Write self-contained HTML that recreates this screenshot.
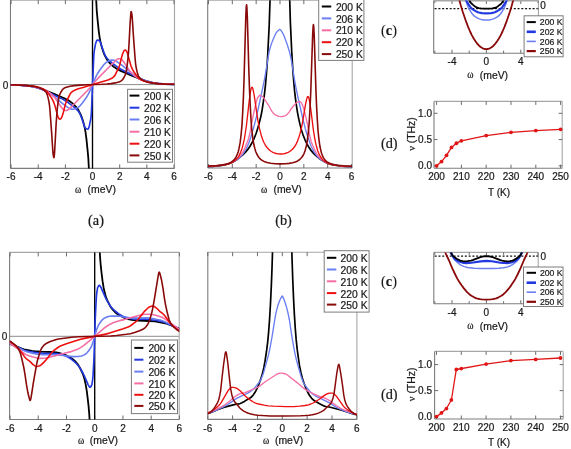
<!DOCTYPE html>
<html><head><meta charset="utf-8"><style>html,body{margin:0;padding:0;background:#fff;width:571px;height:449px;overflow:hidden}svg{display:block;filter:blur(0.35px)}</style></head>
<body><svg width="571" height="449" viewBox="0 0 571 449"><defs><clipPath id="ca1"><rect x="10.47" y="0.15" width="164.03" height="168.25"/></clipPath><clipPath id="cb1"><rect x="207.7" y="0.2" width="144.5" height="167.8"/></clipPath><clipPath id="cc1"><rect x="433.7" y="0.5" width="104.69999999999999" height="52.7"/></clipPath><clipPath id="ca2"><rect x="9.6" y="252.4" width="169.6" height="167.1"/></clipPath><clipPath id="cb2"><rect x="207.8" y="252.2" width="149.09999999999997" height="167.2"/></clipPath><clipPath id="cc2"><rect x="433.8" y="252.4" width="104.40000000000003" height="51.29999999999998"/></clipPath></defs><rect width="571" height="449" fill="#fff"/><line x1="10.47" y1="84.60" x2="174.50" y2="84.60" stroke="#8c8c8c" stroke-width="1" />
<line x1="10.47" y1="0.15" x2="174.50" y2="0.15" stroke="#a6a6a6" stroke-width="1.1" />
<line x1="174.50" y1="0.15" x2="174.50" y2="168.40" stroke="#a6a6a6" stroke-width="1.1" />
<line x1="10.47" y1="0.15" x2="10.47" y2="168.40" stroke="#7c7c7c" stroke-width="1.1" />
<line x1="10.47" y1="168.40" x2="174.50" y2="168.40" stroke="#7c7c7c" stroke-width="1.1" />
<line x1="11.07" y1="168.40" x2="11.07" y2="164.40" stroke="#6a6a6a" stroke-width="1" />
<line x1="11.07" y1="0.15" x2="11.07" y2="4.15" stroke="#6a6a6a" stroke-width="1" />
<text x="11.07" y="180.20" font-family='"Liberation Sans", sans-serif' font-size="10" text-anchor="middle" fill="#1a1a1a" stroke="#1a1a1a" stroke-width="0.22" >-6</text>
<line x1="38.23" y1="168.40" x2="38.23" y2="164.40" stroke="#6a6a6a" stroke-width="1" />
<line x1="38.23" y1="0.15" x2="38.23" y2="4.15" stroke="#6a6a6a" stroke-width="1" />
<text x="38.23" y="180.20" font-family='"Liberation Sans", sans-serif' font-size="10" text-anchor="middle" fill="#1a1a1a" stroke="#1a1a1a" stroke-width="0.22" >-4</text>
<line x1="65.39" y1="168.40" x2="65.39" y2="164.40" stroke="#6a6a6a" stroke-width="1" />
<line x1="65.39" y1="0.15" x2="65.39" y2="4.15" stroke="#6a6a6a" stroke-width="1" />
<text x="65.39" y="180.20" font-family='"Liberation Sans", sans-serif' font-size="10" text-anchor="middle" fill="#1a1a1a" stroke="#1a1a1a" stroke-width="0.22" >-2</text>
<line x1="92.55" y1="168.40" x2="92.55" y2="164.40" stroke="#6a6a6a" stroke-width="1" />
<line x1="92.55" y1="0.15" x2="92.55" y2="4.15" stroke="#6a6a6a" stroke-width="1" />
<text x="92.55" y="180.20" font-family='"Liberation Sans", sans-serif' font-size="10" text-anchor="middle" fill="#1a1a1a" stroke="#1a1a1a" stroke-width="0.22" >0</text>
<line x1="119.71" y1="168.40" x2="119.71" y2="164.40" stroke="#6a6a6a" stroke-width="1" />
<line x1="119.71" y1="0.15" x2="119.71" y2="4.15" stroke="#6a6a6a" stroke-width="1" />
<text x="119.71" y="180.20" font-family='"Liberation Sans", sans-serif' font-size="10" text-anchor="middle" fill="#1a1a1a" stroke="#1a1a1a" stroke-width="0.22" >2</text>
<line x1="146.87" y1="168.40" x2="146.87" y2="164.40" stroke="#6a6a6a" stroke-width="1" />
<line x1="146.87" y1="0.15" x2="146.87" y2="4.15" stroke="#6a6a6a" stroke-width="1" />
<text x="146.87" y="180.20" font-family='"Liberation Sans", sans-serif' font-size="10" text-anchor="middle" fill="#1a1a1a" stroke="#1a1a1a" stroke-width="0.22" >4</text>
<line x1="174.03" y1="168.40" x2="174.03" y2="164.40" stroke="#6a6a6a" stroke-width="1" />
<line x1="174.03" y1="0.15" x2="174.03" y2="4.15" stroke="#6a6a6a" stroke-width="1" />
<text x="174.03" y="180.20" font-family='"Liberation Sans", sans-serif' font-size="10" text-anchor="middle" fill="#1a1a1a" stroke="#1a1a1a" stroke-width="0.22" >6</text>
<text x="5.50" y="88.60" font-family='"Liberation Sans", sans-serif' font-size="10" text-anchor="middle" fill="#1a1a1a" stroke="#1a1a1a" stroke-width="0.22" >0</text>
<text x="75.00" y="192.90" font-family='"Liberation Serif", serif' font-size="9.5" text-anchor="start" fill="#1a1a1a" stroke="#1a1a1a" stroke-width="0.22" >&#969;</text>
<text x="87.60" y="193.10" font-family='"Liberation Sans", sans-serif' font-size="10.4" text-anchor="start" fill="#1a1a1a" stroke="#1a1a1a" stroke-width="0.22" >(meV)</text>
<text x="96.00" y="225.20" font-family='"Liberation Serif", serif' font-size="14.3" text-anchor="middle" fill="#1a1a1a" stroke="#1a1a1a" stroke-width="0.22" >(a)</text>
<line x1="207.70" y1="0.20" x2="352.20" y2="0.20" stroke="#a6a6a6" stroke-width="1.1" />
<line x1="352.20" y1="0.20" x2="352.20" y2="168.00" stroke="#a6a6a6" stroke-width="1.1" />
<line x1="207.70" y1="0.20" x2="207.70" y2="168.00" stroke="#7c7c7c" stroke-width="1.1" />
<line x1="207.70" y1="168.00" x2="352.20" y2="168.00" stroke="#7c7c7c" stroke-width="1.1" />
<line x1="208.48" y1="168.00" x2="208.48" y2="164.00" stroke="#6a6a6a" stroke-width="1" />
<line x1="208.48" y1="0.20" x2="208.48" y2="4.20" stroke="#6a6a6a" stroke-width="1" />
<text x="208.48" y="180.30" font-family='"Liberation Sans", sans-serif' font-size="10" text-anchor="middle" fill="#1a1a1a" stroke="#1a1a1a" stroke-width="0.22" >-6</text>
<line x1="232.32" y1="168.00" x2="232.32" y2="164.00" stroke="#6a6a6a" stroke-width="1" />
<line x1="232.32" y1="0.20" x2="232.32" y2="4.20" stroke="#6a6a6a" stroke-width="1" />
<text x="232.32" y="180.30" font-family='"Liberation Sans", sans-serif' font-size="10" text-anchor="middle" fill="#1a1a1a" stroke="#1a1a1a" stroke-width="0.22" >-4</text>
<line x1="256.16" y1="168.00" x2="256.16" y2="164.00" stroke="#6a6a6a" stroke-width="1" />
<line x1="256.16" y1="0.20" x2="256.16" y2="4.20" stroke="#6a6a6a" stroke-width="1" />
<text x="256.16" y="180.30" font-family='"Liberation Sans", sans-serif' font-size="10" text-anchor="middle" fill="#1a1a1a" stroke="#1a1a1a" stroke-width="0.22" >-2</text>
<line x1="280.00" y1="168.00" x2="280.00" y2="164.00" stroke="#6a6a6a" stroke-width="1" />
<line x1="280.00" y1="0.20" x2="280.00" y2="4.20" stroke="#6a6a6a" stroke-width="1" />
<text x="280.00" y="180.30" font-family='"Liberation Sans", sans-serif' font-size="10" text-anchor="middle" fill="#1a1a1a" stroke="#1a1a1a" stroke-width="0.22" >0</text>
<line x1="303.84" y1="168.00" x2="303.84" y2="164.00" stroke="#6a6a6a" stroke-width="1" />
<line x1="303.84" y1="0.20" x2="303.84" y2="4.20" stroke="#6a6a6a" stroke-width="1" />
<text x="303.84" y="180.30" font-family='"Liberation Sans", sans-serif' font-size="10" text-anchor="middle" fill="#1a1a1a" stroke="#1a1a1a" stroke-width="0.22" >2</text>
<line x1="327.68" y1="168.00" x2="327.68" y2="164.00" stroke="#6a6a6a" stroke-width="1" />
<line x1="327.68" y1="0.20" x2="327.68" y2="4.20" stroke="#6a6a6a" stroke-width="1" />
<text x="327.68" y="180.30" font-family='"Liberation Sans", sans-serif' font-size="10" text-anchor="middle" fill="#1a1a1a" stroke="#1a1a1a" stroke-width="0.22" >4</text>
<line x1="351.52" y1="168.00" x2="351.52" y2="164.00" stroke="#6a6a6a" stroke-width="1" />
<line x1="351.52" y1="0.20" x2="351.52" y2="4.20" stroke="#6a6a6a" stroke-width="1" />
<text x="351.52" y="180.30" font-family='"Liberation Sans", sans-serif' font-size="10" text-anchor="middle" fill="#1a1a1a" stroke="#1a1a1a" stroke-width="0.22" >6</text>
<text x="261.00" y="192.50" font-family='"Liberation Serif", serif' font-size="9.5" text-anchor="start" fill="#1a1a1a" stroke="#1a1a1a" stroke-width="0.22" >&#969;</text>
<text x="273.50" y="192.70" font-family='"Liberation Sans", sans-serif' font-size="10.4" text-anchor="start" fill="#1a1a1a" stroke="#1a1a1a" stroke-width="0.22" >(meV)</text>
<text x="283.50" y="224.80" font-family='"Liberation Serif", serif' font-size="14.3" text-anchor="middle" fill="#1a1a1a" stroke="#1a1a1a" stroke-width="0.22" >(b)</text>
<line x1="433.70" y1="0.50" x2="538.40" y2="0.50" stroke="#a6a6a6" stroke-width="1.1" />
<line x1="538.40" y1="0.50" x2="538.40" y2="53.20" stroke="#a6a6a6" stroke-width="1.1" />
<line x1="433.70" y1="0.50" x2="433.70" y2="53.20" stroke="#7c7c7c" stroke-width="1.1" />
<line x1="433.70" y1="53.20" x2="538.40" y2="53.20" stroke="#7c7c7c" stroke-width="1.1" />
<line x1="434.80" y1="53.20" x2="434.80" y2="50.70" stroke="#6a6a6a" stroke-width="1" />
<line x1="434.80" y1="0.50" x2="434.80" y2="3.00" stroke="#6a6a6a" stroke-width="1" />
<line x1="452.00" y1="53.20" x2="452.00" y2="49.70" stroke="#6a6a6a" stroke-width="1" />
<line x1="452.00" y1="0.50" x2="452.00" y2="4.00" stroke="#6a6a6a" stroke-width="1" />
<line x1="469.20" y1="53.20" x2="469.20" y2="50.70" stroke="#6a6a6a" stroke-width="1" />
<line x1="469.20" y1="0.50" x2="469.20" y2="3.00" stroke="#6a6a6a" stroke-width="1" />
<line x1="486.40" y1="53.20" x2="486.40" y2="49.70" stroke="#6a6a6a" stroke-width="1" />
<line x1="486.40" y1="0.50" x2="486.40" y2="4.00" stroke="#6a6a6a" stroke-width="1" />
<line x1="503.60" y1="53.20" x2="503.60" y2="50.70" stroke="#6a6a6a" stroke-width="1" />
<line x1="503.60" y1="0.50" x2="503.60" y2="3.00" stroke="#6a6a6a" stroke-width="1" />
<line x1="520.80" y1="53.20" x2="520.80" y2="49.70" stroke="#6a6a6a" stroke-width="1" />
<line x1="520.80" y1="0.50" x2="520.80" y2="4.00" stroke="#6a6a6a" stroke-width="1" />
<line x1="538.00" y1="53.20" x2="538.00" y2="50.70" stroke="#6a6a6a" stroke-width="1" />
<line x1="538.00" y1="0.50" x2="538.00" y2="3.00" stroke="#6a6a6a" stroke-width="1" />
<text x="452.00" y="64.90" font-family='"Liberation Sans", sans-serif' font-size="10" text-anchor="middle" fill="#1a1a1a" stroke="#1a1a1a" stroke-width="0.22" >-4</text>
<text x="486.40" y="64.90" font-family='"Liberation Sans", sans-serif' font-size="10" text-anchor="middle" fill="#1a1a1a" stroke="#1a1a1a" stroke-width="0.22" >0</text>
<text x="520.80" y="64.90" font-family='"Liberation Sans", sans-serif' font-size="10" text-anchor="middle" fill="#1a1a1a" stroke="#1a1a1a" stroke-width="0.22" >4</text>
<text x="467.20" y="78.30" font-family='"Liberation Serif", serif' font-size="9.5" text-anchor="start" fill="#1a1a1a" stroke="#1a1a1a" stroke-width="0.22" >&#969;</text>
<text x="479.80" y="78.50" font-family='"Liberation Sans", sans-serif' font-size="10.4" text-anchor="start" fill="#1a1a1a" stroke="#1a1a1a" stroke-width="0.22" >(meV)</text>
<line x1="434.60" y1="8.60" x2="538.40" y2="8.60" stroke="#111" stroke-width="1.2" stroke-dasharray="2.0,1.77"/>
<line x1="433.70" y1="0.70" x2="538.40" y2="0.70" stroke="#a6a6a6" stroke-width="1.5" />
<line x1="536.20" y1="8.45" x2="538.40" y2="8.45" stroke="#6a6a6a" stroke-width="1.0" />
<text x="540.20" y="8.90" font-family='"Liberation Sans", sans-serif' font-size="10" text-anchor="start" fill="#1a1a1a" stroke="#1a1a1a" stroke-width="0.22" >0</text>
<text x="389.0" y="34.9" font-family='"Liberation Serif", serif' font-size="14.3" text-anchor="middle" fill="#1a1a1a" stroke="#1a1a1a" stroke-width="0.12">(<tspan font-weight="bold">c</tspan>)</text>
<line x1="434.00" y1="101.40" x2="562.20" y2="101.40" stroke="#a6a6a6" stroke-width="1.1" />
<line x1="562.20" y1="101.40" x2="562.20" y2="168.20" stroke="#a6a6a6" stroke-width="1.1" />
<line x1="434.00" y1="101.40" x2="434.00" y2="168.20" stroke="#7c7c7c" stroke-width="1.1" />
<line x1="434.00" y1="168.20" x2="562.20" y2="168.20" stroke="#7c7c7c" stroke-width="1.1" />
<line x1="436.60" y1="168.20" x2="436.60" y2="164.70" stroke="#6a6a6a" stroke-width="1" />
<line x1="436.60" y1="101.40" x2="436.60" y2="104.90" stroke="#6a6a6a" stroke-width="1" />
<text x="436.60" y="180.20" font-family='"Liberation Sans", sans-serif' font-size="10" text-anchor="middle" fill="#1a1a1a" stroke="#1a1a1a" stroke-width="0.22" >200</text>
<line x1="461.40" y1="168.20" x2="461.40" y2="164.70" stroke="#6a6a6a" stroke-width="1" />
<line x1="461.40" y1="101.40" x2="461.40" y2="104.90" stroke="#6a6a6a" stroke-width="1" />
<text x="461.40" y="180.20" font-family='"Liberation Sans", sans-serif' font-size="10" text-anchor="middle" fill="#1a1a1a" stroke="#1a1a1a" stroke-width="0.22" >210</text>
<line x1="486.20" y1="168.20" x2="486.20" y2="164.70" stroke="#6a6a6a" stroke-width="1" />
<line x1="486.20" y1="101.40" x2="486.20" y2="104.90" stroke="#6a6a6a" stroke-width="1" />
<text x="486.20" y="180.20" font-family='"Liberation Sans", sans-serif' font-size="10" text-anchor="middle" fill="#1a1a1a" stroke="#1a1a1a" stroke-width="0.22" >220</text>
<line x1="511.00" y1="168.20" x2="511.00" y2="164.70" stroke="#6a6a6a" stroke-width="1" />
<line x1="511.00" y1="101.40" x2="511.00" y2="104.90" stroke="#6a6a6a" stroke-width="1" />
<text x="511.00" y="180.20" font-family='"Liberation Sans", sans-serif' font-size="10" text-anchor="middle" fill="#1a1a1a" stroke="#1a1a1a" stroke-width="0.22" >230</text>
<line x1="535.80" y1="168.20" x2="535.80" y2="164.70" stroke="#6a6a6a" stroke-width="1" />
<line x1="535.80" y1="101.40" x2="535.80" y2="104.90" stroke="#6a6a6a" stroke-width="1" />
<text x="535.80" y="180.20" font-family='"Liberation Sans", sans-serif' font-size="10" text-anchor="middle" fill="#1a1a1a" stroke="#1a1a1a" stroke-width="0.22" >240</text>
<line x1="560.60" y1="168.20" x2="560.60" y2="164.70" stroke="#6a6a6a" stroke-width="1" />
<line x1="560.60" y1="101.40" x2="560.60" y2="104.90" stroke="#6a6a6a" stroke-width="1" />
<text x="560.60" y="180.20" font-family='"Liberation Sans", sans-serif' font-size="10" text-anchor="middle" fill="#1a1a1a" stroke="#1a1a1a" stroke-width="0.22" >250</text>
<line x1="434.00" y1="165.80" x2="437.50" y2="165.80" stroke="#6a6a6a" stroke-width="1" />
<line x1="562.20" y1="165.80" x2="558.70" y2="165.80" stroke="#6a6a6a" stroke-width="1" />
<text x="432.00" y="169.40" font-family='"Liberation Sans", sans-serif' font-size="10" text-anchor="end" fill="#1a1a1a" stroke="#1a1a1a" stroke-width="0.22" >0.0</text>
<line x1="434.00" y1="139.55" x2="437.50" y2="139.55" stroke="#6a6a6a" stroke-width="1" />
<line x1="562.20" y1="139.55" x2="558.70" y2="139.55" stroke="#6a6a6a" stroke-width="1" />
<text x="432.00" y="143.15" font-family='"Liberation Sans", sans-serif' font-size="10" text-anchor="end" fill="#1a1a1a" stroke="#1a1a1a" stroke-width="0.22" >0.5</text>
<line x1="434.00" y1="113.30" x2="437.50" y2="113.30" stroke="#6a6a6a" stroke-width="1" />
<line x1="562.20" y1="113.30" x2="558.70" y2="113.30" stroke="#6a6a6a" stroke-width="1" />
<text x="432.00" y="116.90" font-family='"Liberation Sans", sans-serif' font-size="10" text-anchor="end" fill="#1a1a1a" stroke="#1a1a1a" stroke-width="0.22" >1.0</text>
<text x="499.00" y="196.00" font-family='"Liberation Sans", sans-serif' font-size="10" text-anchor="middle" fill="#1a1a1a" stroke="#1a1a1a" stroke-width="0.22" >T (K)</text>
<text transform="translate(414.7,134.0) rotate(-90)" font-family='"Liberation Sans", sans-serif' font-size="10.4" text-anchor="middle" fill="#1a1a1a" stroke="#1a1a1a" stroke-width="0.2"><tspan font-family='"Liberation Serif", serif'>&#957;</tspan> (THz)</text>
<text x="389.30" y="148.00" font-family='"Liberation Serif", serif' font-size="14.3" text-anchor="middle" fill="#1a1a1a" stroke="#1a1a1a" stroke-width="0.22" >(d)</text>
<path d="M436.6,165.8 L441.6,161.6 L446.5,155.3 L451.5,147.4 L456.4,143.2 L461.4,140.9 L486.2,135.6 L511.0,132.4 L535.8,130.6 L560.6,129.4" fill="none" stroke="#e01515" stroke-width="1.3" stroke-linejoin="round" stroke-linecap="round"/>
<circle cx="436.60" cy="165.80" r="1.9" fill="#e01515"/>
<circle cx="441.56" cy="161.60" r="1.9" fill="#e01515"/>
<circle cx="446.52" cy="155.30" r="1.9" fill="#e01515"/>
<circle cx="451.48" cy="147.43" r="1.9" fill="#e01515"/>
<circle cx="456.44" cy="143.23" r="1.9" fill="#e01515"/>
<circle cx="461.40" cy="140.86" r="1.9" fill="#e01515"/>
<circle cx="486.20" cy="135.56" r="1.9" fill="#e01515"/>
<circle cx="511.00" cy="132.36" r="1.9" fill="#e01515"/>
<circle cx="535.80" cy="130.57" r="1.9" fill="#e01515"/>
<circle cx="560.60" cy="129.37" r="1.9" fill="#e01515"/>
<line x1="9.60" y1="336.30" x2="179.20" y2="336.30" stroke="#8c8c8c" stroke-width="1" />
<line x1="9.60" y1="252.40" x2="179.20" y2="252.40" stroke="#a6a6a6" stroke-width="1.1" />
<line x1="179.20" y1="252.40" x2="179.20" y2="419.50" stroke="#a6a6a6" stroke-width="1.1" />
<line x1="9.60" y1="252.40" x2="9.60" y2="419.50" stroke="#7c7c7c" stroke-width="1.1" />
<line x1="9.60" y1="419.50" x2="179.20" y2="419.50" stroke="#7c7c7c" stroke-width="1.1" />
<line x1="10.00" y1="419.50" x2="10.00" y2="415.50" stroke="#6a6a6a" stroke-width="1" />
<line x1="10.00" y1="252.40" x2="10.00" y2="256.40" stroke="#6a6a6a" stroke-width="1" />
<text x="10.00" y="431.80" font-family='"Liberation Sans", sans-serif' font-size="10" text-anchor="middle" fill="#1a1a1a" stroke="#1a1a1a" stroke-width="0.22" >-6</text>
<line x1="38.23" y1="419.50" x2="38.23" y2="415.50" stroke="#6a6a6a" stroke-width="1" />
<line x1="38.23" y1="252.40" x2="38.23" y2="256.40" stroke="#6a6a6a" stroke-width="1" />
<text x="38.23" y="431.80" font-family='"Liberation Sans", sans-serif' font-size="10" text-anchor="middle" fill="#1a1a1a" stroke="#1a1a1a" stroke-width="0.22" >-4</text>
<line x1="66.47" y1="419.50" x2="66.47" y2="415.50" stroke="#6a6a6a" stroke-width="1" />
<line x1="66.47" y1="252.40" x2="66.47" y2="256.40" stroke="#6a6a6a" stroke-width="1" />
<text x="66.47" y="431.80" font-family='"Liberation Sans", sans-serif' font-size="10" text-anchor="middle" fill="#1a1a1a" stroke="#1a1a1a" stroke-width="0.22" >-2</text>
<line x1="94.70" y1="419.50" x2="94.70" y2="415.50" stroke="#6a6a6a" stroke-width="1" />
<line x1="94.70" y1="252.40" x2="94.70" y2="256.40" stroke="#6a6a6a" stroke-width="1" />
<text x="94.70" y="431.80" font-family='"Liberation Sans", sans-serif' font-size="10" text-anchor="middle" fill="#1a1a1a" stroke="#1a1a1a" stroke-width="0.22" >0</text>
<line x1="122.93" y1="419.50" x2="122.93" y2="415.50" stroke="#6a6a6a" stroke-width="1" />
<line x1="122.93" y1="252.40" x2="122.93" y2="256.40" stroke="#6a6a6a" stroke-width="1" />
<text x="122.93" y="431.80" font-family='"Liberation Sans", sans-serif' font-size="10" text-anchor="middle" fill="#1a1a1a" stroke="#1a1a1a" stroke-width="0.22" >2</text>
<line x1="151.17" y1="419.50" x2="151.17" y2="415.50" stroke="#6a6a6a" stroke-width="1" />
<line x1="151.17" y1="252.40" x2="151.17" y2="256.40" stroke="#6a6a6a" stroke-width="1" />
<text x="151.17" y="431.80" font-family='"Liberation Sans", sans-serif' font-size="10" text-anchor="middle" fill="#1a1a1a" stroke="#1a1a1a" stroke-width="0.22" >4</text>
<line x1="179.40" y1="419.50" x2="179.40" y2="415.50" stroke="#6a6a6a" stroke-width="1" />
<line x1="179.40" y1="252.40" x2="179.40" y2="256.40" stroke="#6a6a6a" stroke-width="1" />
<text x="179.40" y="431.80" font-family='"Liberation Sans", sans-serif' font-size="10" text-anchor="middle" fill="#1a1a1a" stroke="#1a1a1a" stroke-width="0.22" >6</text>
<text x="4.60" y="340.00" font-family='"Liberation Sans", sans-serif' font-size="10" text-anchor="middle" fill="#1a1a1a" stroke="#1a1a1a" stroke-width="0.22" >0</text>
<text x="78.00" y="443.70" font-family='"Liberation Serif", serif' font-size="9.5" text-anchor="start" fill="#1a1a1a" stroke="#1a1a1a" stroke-width="0.22" >&#969;</text>
<text x="89.80" y="443.90" font-family='"Liberation Sans", sans-serif' font-size="10.4" text-anchor="start" fill="#1a1a1a" stroke="#1a1a1a" stroke-width="0.22" >(meV)</text>
<line x1="207.80" y1="252.20" x2="356.90" y2="252.20" stroke="#a6a6a6" stroke-width="1.1" />
<line x1="356.90" y1="252.20" x2="356.90" y2="419.40" stroke="#a6a6a6" stroke-width="1.1" />
<line x1="207.80" y1="252.20" x2="207.80" y2="419.40" stroke="#7c7c7c" stroke-width="1.1" />
<line x1="207.80" y1="419.40" x2="356.90" y2="419.40" stroke="#7c7c7c" stroke-width="1.1" />
<line x1="207.78" y1="419.40" x2="207.78" y2="415.40" stroke="#6a6a6a" stroke-width="1" />
<line x1="207.78" y1="252.20" x2="207.78" y2="256.20" stroke="#6a6a6a" stroke-width="1" />
<text x="207.78" y="431.60" font-family='"Liberation Sans", sans-serif' font-size="10" text-anchor="middle" fill="#1a1a1a" stroke="#1a1a1a" stroke-width="0.22" >-6</text>
<line x1="232.62" y1="419.40" x2="232.62" y2="415.40" stroke="#6a6a6a" stroke-width="1" />
<line x1="232.62" y1="252.20" x2="232.62" y2="256.20" stroke="#6a6a6a" stroke-width="1" />
<text x="232.62" y="431.60" font-family='"Liberation Sans", sans-serif' font-size="10" text-anchor="middle" fill="#1a1a1a" stroke="#1a1a1a" stroke-width="0.22" >-4</text>
<line x1="257.46" y1="419.40" x2="257.46" y2="415.40" stroke="#6a6a6a" stroke-width="1" />
<line x1="257.46" y1="252.20" x2="257.46" y2="256.20" stroke="#6a6a6a" stroke-width="1" />
<text x="257.46" y="431.60" font-family='"Liberation Sans", sans-serif' font-size="10" text-anchor="middle" fill="#1a1a1a" stroke="#1a1a1a" stroke-width="0.22" >-2</text>
<line x1="282.30" y1="419.40" x2="282.30" y2="415.40" stroke="#6a6a6a" stroke-width="1" />
<line x1="282.30" y1="252.20" x2="282.30" y2="256.20" stroke="#6a6a6a" stroke-width="1" />
<text x="282.30" y="431.60" font-family='"Liberation Sans", sans-serif' font-size="10" text-anchor="middle" fill="#1a1a1a" stroke="#1a1a1a" stroke-width="0.22" >0</text>
<line x1="307.14" y1="419.40" x2="307.14" y2="415.40" stroke="#6a6a6a" stroke-width="1" />
<line x1="307.14" y1="252.20" x2="307.14" y2="256.20" stroke="#6a6a6a" stroke-width="1" />
<text x="307.14" y="431.60" font-family='"Liberation Sans", sans-serif' font-size="10" text-anchor="middle" fill="#1a1a1a" stroke="#1a1a1a" stroke-width="0.22" >2</text>
<line x1="331.98" y1="419.40" x2="331.98" y2="415.40" stroke="#6a6a6a" stroke-width="1" />
<line x1="331.98" y1="252.20" x2="331.98" y2="256.20" stroke="#6a6a6a" stroke-width="1" />
<text x="331.98" y="431.60" font-family='"Liberation Sans", sans-serif' font-size="10" text-anchor="middle" fill="#1a1a1a" stroke="#1a1a1a" stroke-width="0.22" >4</text>
<line x1="356.82" y1="419.40" x2="356.82" y2="415.40" stroke="#6a6a6a" stroke-width="1" />
<line x1="356.82" y1="252.20" x2="356.82" y2="256.20" stroke="#6a6a6a" stroke-width="1" />
<text x="356.82" y="431.60" font-family='"Liberation Sans", sans-serif' font-size="10" text-anchor="middle" fill="#1a1a1a" stroke="#1a1a1a" stroke-width="0.22" >6</text>
<text x="263.00" y="443.70" font-family='"Liberation Serif", serif' font-size="9.5" text-anchor="start" fill="#1a1a1a" stroke="#1a1a1a" stroke-width="0.22" >&#969;</text>
<text x="275.00" y="443.90" font-family='"Liberation Sans", sans-serif' font-size="10.4" text-anchor="start" fill="#1a1a1a" stroke="#1a1a1a" stroke-width="0.22" >(meV)</text>
<line x1="433.80" y1="252.40" x2="538.20" y2="252.40" stroke="#a6a6a6" stroke-width="1.1" />
<line x1="538.20" y1="252.40" x2="538.20" y2="303.70" stroke="#a6a6a6" stroke-width="1.1" />
<line x1="433.80" y1="252.40" x2="433.80" y2="303.70" stroke="#7c7c7c" stroke-width="1.1" />
<line x1="433.80" y1="303.70" x2="538.20" y2="303.70" stroke="#7c7c7c" stroke-width="1.1" />
<line x1="434.80" y1="303.70" x2="434.80" y2="301.20" stroke="#6a6a6a" stroke-width="1" />
<line x1="434.80" y1="252.40" x2="434.80" y2="254.90" stroke="#6a6a6a" stroke-width="1" />
<line x1="452.00" y1="303.70" x2="452.00" y2="300.20" stroke="#6a6a6a" stroke-width="1" />
<line x1="452.00" y1="252.40" x2="452.00" y2="255.90" stroke="#6a6a6a" stroke-width="1" />
<line x1="469.20" y1="303.70" x2="469.20" y2="301.20" stroke="#6a6a6a" stroke-width="1" />
<line x1="469.20" y1="252.40" x2="469.20" y2="254.90" stroke="#6a6a6a" stroke-width="1" />
<line x1="486.40" y1="303.70" x2="486.40" y2="300.20" stroke="#6a6a6a" stroke-width="1" />
<line x1="486.40" y1="252.40" x2="486.40" y2="255.90" stroke="#6a6a6a" stroke-width="1" />
<line x1="503.60" y1="303.70" x2="503.60" y2="301.20" stroke="#6a6a6a" stroke-width="1" />
<line x1="503.60" y1="252.40" x2="503.60" y2="254.90" stroke="#6a6a6a" stroke-width="1" />
<line x1="520.80" y1="303.70" x2="520.80" y2="300.20" stroke="#6a6a6a" stroke-width="1" />
<line x1="520.80" y1="252.40" x2="520.80" y2="255.90" stroke="#6a6a6a" stroke-width="1" />
<line x1="538.00" y1="303.70" x2="538.00" y2="301.20" stroke="#6a6a6a" stroke-width="1" />
<line x1="538.00" y1="252.40" x2="538.00" y2="254.90" stroke="#6a6a6a" stroke-width="1" />
<text x="452.00" y="315.90" font-family='"Liberation Sans", sans-serif' font-size="10" text-anchor="middle" fill="#1a1a1a" stroke="#1a1a1a" stroke-width="0.22" >-4</text>
<text x="486.40" y="315.90" font-family='"Liberation Sans", sans-serif' font-size="10" text-anchor="middle" fill="#1a1a1a" stroke="#1a1a1a" stroke-width="0.22" >0</text>
<text x="520.80" y="315.90" font-family='"Liberation Sans", sans-serif' font-size="10" text-anchor="middle" fill="#1a1a1a" stroke="#1a1a1a" stroke-width="0.22" >4</text>
<text x="467.20" y="329.30" font-family='"Liberation Serif", serif' font-size="9.5" text-anchor="start" fill="#1a1a1a" stroke="#1a1a1a" stroke-width="0.22" >&#969;</text>
<text x="479.80" y="329.50" font-family='"Liberation Sans", sans-serif' font-size="10.4" text-anchor="start" fill="#1a1a1a" stroke="#1a1a1a" stroke-width="0.22" >(meV)</text>
<line x1="434.70" y1="256.10" x2="538.20" y2="256.10" stroke="#111" stroke-width="1.2" stroke-dasharray="2.0,1.77"/>
<line x1="536.00" y1="256.00" x2="538.20" y2="256.00" stroke="#6a6a6a" stroke-width="1.0" />
<text x="540.50" y="259.90" font-family='"Liberation Sans", sans-serif' font-size="10" text-anchor="start" fill="#1a1a1a" stroke="#1a1a1a" stroke-width="0.22" >0</text>
<text x="389.0" y="285.8" font-family='"Liberation Serif", serif' font-size="14.3" text-anchor="middle" fill="#1a1a1a" stroke="#1a1a1a" stroke-width="0.12">(<tspan font-weight="bold">c</tspan>)</text>
<line x1="434.60" y1="351.40" x2="563.20" y2="351.40" stroke="#a6a6a6" stroke-width="1.1" />
<line x1="563.20" y1="351.40" x2="563.20" y2="419.00" stroke="#a6a6a6" stroke-width="1.1" />
<line x1="434.60" y1="351.40" x2="434.60" y2="419.00" stroke="#7c7c7c" stroke-width="1.1" />
<line x1="434.60" y1="419.00" x2="563.20" y2="419.00" stroke="#7c7c7c" stroke-width="1.1" />
<line x1="436.50" y1="419.00" x2="436.50" y2="415.50" stroke="#6a6a6a" stroke-width="1" />
<line x1="436.50" y1="351.40" x2="436.50" y2="354.90" stroke="#6a6a6a" stroke-width="1" />
<text x="436.50" y="430.80" font-family='"Liberation Sans", sans-serif' font-size="10" text-anchor="middle" fill="#1a1a1a" stroke="#1a1a1a" stroke-width="0.22" >200</text>
<line x1="461.30" y1="419.00" x2="461.30" y2="415.50" stroke="#6a6a6a" stroke-width="1" />
<line x1="461.30" y1="351.40" x2="461.30" y2="354.90" stroke="#6a6a6a" stroke-width="1" />
<text x="461.30" y="430.80" font-family='"Liberation Sans", sans-serif' font-size="10" text-anchor="middle" fill="#1a1a1a" stroke="#1a1a1a" stroke-width="0.22" >210</text>
<line x1="486.10" y1="419.00" x2="486.10" y2="415.50" stroke="#6a6a6a" stroke-width="1" />
<line x1="486.10" y1="351.40" x2="486.10" y2="354.90" stroke="#6a6a6a" stroke-width="1" />
<text x="486.10" y="430.80" font-family='"Liberation Sans", sans-serif' font-size="10" text-anchor="middle" fill="#1a1a1a" stroke="#1a1a1a" stroke-width="0.22" >220</text>
<line x1="510.90" y1="419.00" x2="510.90" y2="415.50" stroke="#6a6a6a" stroke-width="1" />
<line x1="510.90" y1="351.40" x2="510.90" y2="354.90" stroke="#6a6a6a" stroke-width="1" />
<text x="510.90" y="430.80" font-family='"Liberation Sans", sans-serif' font-size="10" text-anchor="middle" fill="#1a1a1a" stroke="#1a1a1a" stroke-width="0.22" >230</text>
<line x1="535.70" y1="419.00" x2="535.70" y2="415.50" stroke="#6a6a6a" stroke-width="1" />
<line x1="535.70" y1="351.40" x2="535.70" y2="354.90" stroke="#6a6a6a" stroke-width="1" />
<text x="535.70" y="430.80" font-family='"Liberation Sans", sans-serif' font-size="10" text-anchor="middle" fill="#1a1a1a" stroke="#1a1a1a" stroke-width="0.22" >240</text>
<line x1="560.50" y1="419.00" x2="560.50" y2="415.50" stroke="#6a6a6a" stroke-width="1" />
<line x1="560.50" y1="351.40" x2="560.50" y2="354.90" stroke="#6a6a6a" stroke-width="1" />
<text x="560.50" y="430.80" font-family='"Liberation Sans", sans-serif' font-size="10" text-anchor="middle" fill="#1a1a1a" stroke="#1a1a1a" stroke-width="0.22" >250</text>
<line x1="434.60" y1="416.60" x2="438.10" y2="416.60" stroke="#6a6a6a" stroke-width="1" />
<line x1="563.20" y1="416.60" x2="559.70" y2="416.60" stroke="#6a6a6a" stroke-width="1" />
<text x="432.00" y="420.20" font-family='"Liberation Sans", sans-serif' font-size="10" text-anchor="end" fill="#1a1a1a" stroke="#1a1a1a" stroke-width="0.22" >0.0</text>
<line x1="434.60" y1="390.60" x2="438.10" y2="390.60" stroke="#6a6a6a" stroke-width="1" />
<line x1="563.20" y1="390.60" x2="559.70" y2="390.60" stroke="#6a6a6a" stroke-width="1" />
<text x="432.00" y="394.20" font-family='"Liberation Sans", sans-serif' font-size="10" text-anchor="end" fill="#1a1a1a" stroke="#1a1a1a" stroke-width="0.22" >0.5</text>
<line x1="434.60" y1="364.60" x2="438.10" y2="364.60" stroke="#6a6a6a" stroke-width="1" />
<line x1="563.20" y1="364.60" x2="559.70" y2="364.60" stroke="#6a6a6a" stroke-width="1" />
<text x="432.00" y="368.20" font-family='"Liberation Sans", sans-serif' font-size="10" text-anchor="end" fill="#1a1a1a" stroke="#1a1a1a" stroke-width="0.22" >1.0</text>
<text x="499.00" y="446.40" font-family='"Liberation Sans", sans-serif' font-size="10" text-anchor="middle" fill="#1a1a1a" stroke="#1a1a1a" stroke-width="0.22" >T (K)</text>
<text transform="translate(414.7,384.4) rotate(-90)" font-family='"Liberation Sans", sans-serif' font-size="10.4" text-anchor="middle" fill="#1a1a1a" stroke="#1a1a1a" stroke-width="0.2"><tspan font-family='"Liberation Serif", serif'>&#957;</tspan> (THz)</text>
<text x="389.30" y="398.60" font-family='"Liberation Serif", serif' font-size="14.3" text-anchor="middle" fill="#1a1a1a" stroke="#1a1a1a" stroke-width="0.22" >(d)</text>
<path d="M436.5,416.6 L441.5,413.0 L446.4,408.5 L451.4,400.0 L456.3,369.5 L486.1,364.1 L510.9,360.6 L535.7,359.4 L560.5,358.0" fill="none" stroke="#e01515" stroke-width="1.3" stroke-linejoin="round" stroke-linecap="round"/>
<circle cx="436.50" cy="416.60" r="1.9" fill="#e01515"/>
<circle cx="441.46" cy="412.96" r="1.9" fill="#e01515"/>
<circle cx="446.42" cy="408.54" r="1.9" fill="#e01515"/>
<circle cx="451.38" cy="399.96" r="1.9" fill="#e01515"/>
<circle cx="456.34" cy="369.49" r="1.9" fill="#e01515"/>
<circle cx="461.30" cy="368.60" r="1.9" fill="#e01515"/>
<circle cx="486.10" cy="364.08" r="1.9" fill="#e01515"/>
<circle cx="510.90" cy="360.60" r="1.9" fill="#e01515"/>
<circle cx="535.70" cy="359.40" r="1.9" fill="#e01515"/>
<circle cx="560.50" cy="358.00" r="1.9" fill="#e01515"/>
<path d="M11.1,84.8 L20.2,85.2 L26.7,85.6 L32.2,86.4 L36.5,87.3 L39.8,88.3 L42.8,89.3 L45.3,90.3 L48.2,91.5 L54.6,94.0 L58.9,96.0 L64.4,98.3 L67.9,100.1 L71.4,102.4 L73.7,104.4 L75.3,106.1 L76.6,107.6 L77.7,109.1 L78.8,110.8 L80.5,114.1 L81.9,117.6 L83.5,122.8 L84.8,128.1 L85.6,132.6 L86.4,138.6 L87.6,150.4 L88.3,157.8 L89.0,171.0 L89.8,196.6 L91.7,484.6" fill="none" stroke="#000000" stroke-width="1.8" stroke-linejoin="round" stroke-linecap="round" clip-path="url(#ca1)"/>
<path d="M93.4,-315.4 L95.3,-27.4 L96.1,-1.8 L96.8,11.4 L97.5,18.8 L98.7,30.6 L99.5,36.6 L100.3,41.1 L101.6,46.4 L103.2,51.6 L104.6,55.1 L106.3,58.4 L107.4,60.1 L108.5,61.6 L109.8,63.1 L111.4,64.8 L113.7,66.8 L117.2,69.1 L120.7,70.9 L126.2,73.2 L130.5,75.2 L136.9,77.7 L139.8,78.9 L142.3,79.9 L145.3,80.9 L148.6,81.9 L152.9,82.8 L158.4,83.6 L164.9,84.0 L174.0,84.4" fill="none" stroke="#000000" stroke-width="1.8" stroke-linejoin="round" stroke-linecap="round" clip-path="url(#ca1)"/>
<path d="M92.5,484.6 L92.5,-315.4" fill="none" stroke="#000000" stroke-width="1.35" stroke-linejoin="round" stroke-linecap="round" clip-path="url(#ca1)"/>
<path d="M11.1,84.8 L18.6,85.1 L27.8,85.9 L32.7,86.6 L37.5,87.8 L39.6,88.5 L41.7,89.2 L47.9,92.0 L54.9,95.4 L61.3,98.4 L64.5,100.2 L67.5,102.1 L73.1,106.4 L76.6,109.4 L78.3,111.2 L79.5,113.0 L80.9,116.0 L82.1,119.2 L84.8,127.3 L85.3,128.0 L86.0,128.6 L87.0,129.0 L87.8,129.2 L88.1,129.1 L88.5,128.4 L89.4,125.7 L90.8,118.6 L91.2,115.5 L91.6,108.4 L93.8,55.2 L94.3,50.6 L95.5,44.1 L95.8,43.0 L96.5,41.1 L96.9,40.3 L97.2,40.0 L97.9,40.1 L98.9,40.5 L99.6,41.1 L100.3,41.9 L103.0,50.0 L104.2,53.2 L105.6,56.2 L106.8,58.0 L108.5,59.8 L112.0,62.8 L117.6,67.1 L120.6,69.0 L123.8,70.8 L130.2,73.8 L137.2,77.2 L143.4,80.0 L145.5,80.7 L147.6,81.4 L152.4,82.6 L157.3,83.3 L166.5,84.1 L174.0,84.4" fill="none" stroke="#2238e0" stroke-width="1.65" stroke-linejoin="round" stroke-linecap="round" clip-path="url(#ca1)"/>
<path d="M11.1,84.8 L15.3,85.0 L20.3,85.3 L26.0,85.7 L29.8,86.2 L32.4,86.6 L34.9,87.1 L38.4,88.2 L40.7,89.0 L43.4,90.1 L46.2,91.5 L48.5,92.9 L51.9,95.1 L56.9,98.9 L63.6,104.4 L68.5,107.9 L69.4,108.4 L70.4,108.8 L71.9,109.1 L73.0,109.2 L73.9,109.1 L75.8,108.4 L77.0,107.9 L78.3,107.2 L79.2,106.5 L80.0,105.8 L82.2,103.3 L85.9,98.3 L87.2,96.1 L88.6,93.7 L90.8,89.0 L93.8,81.5 L95.4,77.7 L97.3,74.0 L99.5,70.5 L103.2,65.5 L104.4,64.1 L105.5,63.0 L106.7,62.1 L108.2,61.3 L109.4,60.7 L111.3,60.1 L112.5,60.0 L114.3,60.3 L115.4,60.7 L116.5,61.3 L121.5,64.8 L128.2,70.3 L133.2,74.1 L136.6,76.3 L138.9,77.7 L141.7,79.1 L144.5,80.3 L146.8,81.1 L150.4,82.1 L152.8,82.7 L155.4,83.1 L159.2,83.5 L164.9,83.9 L169.8,84.2 L174.0,84.3" fill="none" stroke="#6a7ef2" stroke-width="1.6" stroke-linejoin="round" stroke-linecap="round" clip-path="url(#ca1)"/>
<path d="M11.1,84.8 L16.8,85.0 L24.3,85.5 L28.1,85.8 L31.9,86.3 L35.3,86.9 L39.1,87.8 L41.9,88.7 L44.5,89.8 L47.1,91.1 L49.7,92.8 L51.9,94.6 L53.9,96.6 L55.7,98.7 L61.0,106.8 L63.3,109.7 L63.8,110.1 L64.5,110.3 L65.9,110.5 L66.8,110.4 L67.5,110.1 L68.3,109.6 L71.9,106.3 L79.1,99.0 L87.2,90.8 L90.0,87.8 L94.5,82.2 L96.9,79.4 L112.8,63.3 L117.0,59.4 L118.0,58.9 L118.8,58.7 L119.9,58.8 L121.1,59.0 L121.5,59.2 L122.1,59.7 L124.1,62.4 L129.5,70.7 L130.6,72.0 L132.5,74.0 L134.3,75.5 L136.1,76.8 L138.3,78.2 L140.4,79.4 L143.2,80.5 L146.0,81.4 L149.8,82.3 L153.2,82.9 L157.0,83.4 L160.8,83.7 L168.3,84.2 L174.0,84.3" fill="none" stroke="#f56ea5" stroke-width="1.6" stroke-linejoin="round" stroke-linecap="round" clip-path="url(#ca1)"/>
<path d="M11.1,84.8 L17.2,85.0 L25.5,85.5 L30.1,85.9 L34.2,86.4 L37.9,87.1 L40.6,87.9 L43.2,89.0 L45.6,90.4 L47.0,91.7 L48.7,93.9 L51.3,97.6 L53.0,100.6 L53.8,102.4 L54.5,104.4 L58.0,116.9 L59.0,118.6 L59.4,119.0 L59.6,119.1 L60.6,118.9 L61.0,118.6 L61.4,117.9 L62.2,116.1 L62.9,114.1 L63.8,110.8 L65.3,104.3 L65.9,102.7 L66.6,101.1 L70.2,93.8 L70.9,92.9 L72.3,91.7 L73.4,90.9 L74.6,90.2 L77.6,89.0 L83.8,87.3 L101.1,82.0 L106.3,80.5 L108.5,79.8 L110.2,79.1 L111.7,78.3 L113.1,77.3 L114.3,76.2 L115.3,74.7 L118.4,68.4 L119.2,66.5 L119.9,64.4 L121.3,58.4 L122.5,54.2 L123.7,51.3 L124.1,50.6 L124.5,50.3 L125.3,50.1 L125.7,50.2 L126.3,50.8 L127.0,52.0 L127.5,53.6 L130.8,65.2 L131.5,67.1 L132.5,69.4 L134.0,72.0 L136.6,75.7 L138.1,77.5 L139.5,78.8 L141.9,80.2 L144.5,81.3 L147.2,82.1 L150.9,82.8 L155.0,83.3 L159.6,83.7 L167.9,84.2 L174.0,84.3" fill="none" stroke="#ee1010" stroke-width="1.6" stroke-linejoin="round" stroke-linecap="round" clip-path="url(#ca1)"/>
<path d="M11.1,84.8 L18.0,85.0 L27.1,85.6 L32.2,86.1 L36.0,86.8 L39.6,87.9 L41.1,88.5 L42.6,89.3 L43.9,90.1 L44.8,90.9 L45.8,91.9 L46.6,93.1 L47.4,95.1 L48.3,98.6 L49.0,102.1 L49.6,106.2 L50.2,113.2 L51.7,133.6 L52.6,147.6 L53.0,153.1 L53.4,155.9 L53.6,157.0 L53.9,157.6 L54.1,157.5 L54.2,156.7 L54.5,153.5 L55.0,145.3 L56.2,122.6 L56.8,114.7 L57.3,108.6 L58.1,101.9 L58.8,97.7 L59.6,94.9 L60.7,92.5 L61.5,91.1 L62.6,89.5 L63.2,88.9 L64.1,88.2 L64.9,87.8 L66.4,87.3 L70.2,86.3 L74.5,85.6 L80.4,85.1 L87.5,84.7 L101.9,84.3 L106.7,84.0 L110.9,83.6 L115.1,82.9 L118.8,81.9 L120.7,81.2 L121.5,80.6 L122.3,79.9 L123.2,78.8 L124.2,77.0 L124.9,75.6 L125.6,73.9 L126.4,70.8 L127.2,65.2 L127.9,59.2 L128.5,52.7 L129.0,44.3 L130.2,21.7 L130.8,13.9 L131.0,11.7 L131.2,11.6 L131.5,12.2 L131.7,13.3 L132.1,16.1 L132.5,21.6 L133.4,35.6 L134.9,56.0 L135.5,63.0 L136.1,67.1 L136.8,70.6 L137.7,74.1 L138.5,76.1 L139.3,77.3 L140.3,78.3 L141.2,79.1 L142.5,79.9 L144.0,80.7 L145.5,81.3 L149.1,82.4 L152.9,83.1 L158.0,83.6 L167.1,84.2 L174.0,84.3" fill="none" stroke="#8a0a0a" stroke-width="1.6" stroke-linejoin="round" stroke-linecap="round" clip-path="url(#ca1)"/>
<path d="M208.5,166.6 L213.3,166.4 L217.4,166.0 L221.7,165.4 L225.5,164.6 L228.9,163.7 L231.5,162.8 L233.4,161.9 L235.7,160.4 L239.4,157.7 L242.5,155.1 L245.3,152.4 L247.8,149.4 L250.0,146.2 L252.3,142.3 L254.2,138.3 L256.0,133.8 L257.7,128.6 L259.3,122.7 L260.9,116.3 L262.1,110.0 L263.3,102.2 L264.4,94.3 L265.4,85.6 L266.3,75.2 L267.1,65.2 L267.8,53.2 L269.2,25.4 L270.2,-5.3 L271.4,-50.0 L288.4,-50.0 L289.5,-7.3 L290.4,22.9 L291.7,51.2 L293.0,72.7 L293.8,82.2 L294.6,91.2 L295.6,99.6 L296.6,106.6 L297.6,113.1 L298.8,119.1 L300.0,124.4 L301.6,130.4 L303.1,135.1 L304.8,139.3 L306.8,143.6 L308.7,147.0 L311.0,150.4 L313.3,153.1 L315.9,155.7 L319.0,158.2 L322.0,160.3 L325.9,162.5 L328.1,163.5 L330.7,164.3 L335.1,165.2 L340.0,165.9 L345.1,166.4 L351.5,166.7" fill="none" stroke="#000000" stroke-width="1.7" stroke-linejoin="round" stroke-linecap="round" clip-path="url(#cb1)"/>
<path d="M208.5,166.6 L211.3,166.5 L214.5,166.2 L219.5,165.6 L222.6,165.1 L225.3,164.5 L228.1,163.7 L231.5,162.6 L233.4,161.8 L235.4,160.7 L237.4,159.4 L239.0,158.2 L240.4,156.9 L242.1,155.0 L243.6,153.0 L244.9,151.0 L246.3,148.5 L247.6,145.8 L248.7,143.2 L250.8,137.2 L253.5,128.1 L256.5,116.5 L262.4,89.4 L264.4,79.7 L265.8,72.0 L268.4,55.6 L269.2,51.6 L270.0,48.3 L271.1,44.8 L272.3,41.4 L274.6,35.9 L275.7,33.7 L276.3,32.6 L277.9,30.7 L279.0,29.8 L280.0,29.4 L280.7,30.1 L281.8,31.6 L283.6,34.8 L284.2,36.2 L287.4,45.0 L289.5,51.9 L290.5,56.1 L291.3,59.9 L292.3,65.5 L294.2,78.2 L295.7,86.4 L297.8,96.5 L302.9,119.0 L305.3,128.7 L307.7,136.7 L310.4,144.4 L311.3,146.7 L312.5,149.0 L313.9,151.6 L315.4,153.8 L316.7,155.6 L318.3,157.4 L319.8,158.8 L321.4,160.0 L323.5,161.3 L325.6,162.3 L327.8,163.2 L330.4,164.0 L333.6,164.8 L336.6,165.4 L339.4,165.8 L344.8,166.3 L348.4,166.6 L351.5,166.7" fill="none" stroke="#6a7ef2" stroke-width="1.35" stroke-linejoin="round" stroke-linecap="round" clip-path="url(#cb1)"/>
<path d="M208.5,166.6 L211.1,166.5 L213.9,166.2 L221.5,165.2 L225.8,164.3 L230.2,162.8 L232.0,162.1 L233.3,161.4 L234.8,160.5 L236.5,159.2 L238.0,158.1 L239.2,156.9 L240.4,155.5 L241.6,154.1 L243.1,151.6 L244.8,148.0 L247.0,142.8 L248.4,139.0 L249.6,134.5 L253.2,115.3 L254.9,107.7 L256.2,102.4 L257.1,99.1 L257.8,97.5 L259.1,95.8 L259.5,95.4 L260.0,95.3 L260.8,95.5 L261.7,96.0 L263.0,97.0 L263.8,98.0 L268.3,104.8 L269.3,106.5 L271.0,110.0 L272.3,111.9 L273.5,113.3 L274.4,114.2 L275.4,114.9 L277.6,116.0 L279.2,116.4 L281.0,116.6 L282.4,116.5 L284.9,115.9 L286.0,115.3 L287.3,114.2 L288.9,112.4 L289.5,111.6 L290.7,109.4 L291.8,108.0 L293.4,106.0 L296.3,102.9 L297.1,102.3 L298.8,101.6 L299.7,101.6 L300.1,101.7 L300.5,101.9 L301.4,103.1 L302.5,104.9 L303.2,107.1 L304.6,111.9 L307.0,122.2 L310.3,138.3 L311.3,141.9 L312.7,145.5 L314.8,150.1 L316.6,153.5 L318.2,155.9 L319.3,157.1 L320.4,158.3 L322.9,160.2 L324.7,161.4 L326.3,162.3 L327.8,162.9 L329.4,163.5 L333.9,164.7 L338.4,165.6 L345.9,166.4 L351.5,166.6" fill="none" stroke="#f56ea5" stroke-width="1.35" stroke-linejoin="round" stroke-linecap="round" clip-path="url(#cb1)"/>
<path d="M208.5,166.2 L215.8,165.8 L221.5,165.3 L225.9,164.5 L229.6,163.5 L231.2,162.9 L232.6,162.2 L234.0,161.3 L235.2,160.4 L236.3,159.3 L237.4,158.1 L238.3,156.8 L239.2,155.4 L240.7,152.1 L242.1,148.4 L243.2,144.1 L244.4,138.7 L245.4,132.5 L246.5,125.0 L249.2,100.9 L250.1,94.2 L250.6,91.2 L251.0,89.0 L251.5,87.7 L251.7,87.4 L252.0,87.3 L252.4,87.6 L252.8,88.5 L253.6,92.1 L254.4,96.6 L256.7,112.6 L257.9,120.4 L259.4,128.2 L261.0,134.3 L261.8,137.1 L262.8,139.8 L263.8,142.2 L264.9,144.3 L266.0,146.2 L267.3,147.8 L268.6,149.3 L269.9,150.5 L271.4,151.5 L272.9,152.3 L274.5,153.0 L276.1,153.5 L277.9,153.9 L279.7,154.0 L281.5,154.0 L283.3,153.8 L285.0,153.5 L286.6,153.0 L288.2,152.3 L289.6,151.5 L290.9,150.6 L292.2,149.5 L293.3,148.2 L294.5,146.8 L296.1,144.1 L297.5,141.1 L298.8,137.5 L300.1,133.4 L301.2,128.8 L302.4,123.2 L305.4,105.2 L306.3,100.7 L307.1,97.6 L307.6,96.7 L308.0,96.6 L308.4,96.9 L308.9,98.1 L309.3,100.0 L309.8,102.6 L310.7,108.5 L313.4,130.1 L314.4,136.3 L315.4,141.9 L316.6,146.8 L317.7,150.7 L319.1,154.1 L320.6,157.0 L321.5,158.2 L322.4,159.4 L323.5,160.5 L324.6,161.4 L325.8,162.2 L327.1,162.9 L328.5,163.5 L330.1,164.1 L333.8,165.0 L338.4,165.6 L344.1,166.1 L351.5,166.4" fill="none" stroke="#ee1010" stroke-width="1.35" stroke-linejoin="round" stroke-linecap="round" clip-path="url(#cb1)"/>
<path d="M208.5,166.0 L216.8,165.6 L222.8,164.9 L225.3,164.4 L227.4,163.8 L229.2,163.2 L230.8,162.4 L232.2,161.4 L233.6,160.3 L234.7,159.0 L235.8,157.5 L236.6,155.9 L237.5,153.8 L238.3,151.5 L238.9,148.9 L240.1,142.9 L241.1,134.6 L242.0,124.6 L242.7,112.1 L243.4,97.2 L244.0,80.9 L245.8,16.4 L246.2,7.9 L246.4,5.6 L246.6,4.8 L246.7,5.5 L246.9,7.7 L247.3,16.0 L248.9,72.4 L249.7,94.4 L250.5,110.8 L251.2,122.7 L251.8,129.5 L252.5,135.7 L253.1,140.5 L253.9,144.8 L254.8,148.4 L255.7,151.5 L256.8,154.0 L258.0,156.2 L258.9,157.4 L259.7,158.4 L260.7,159.3 L261.7,160.1 L262.9,160.8 L264.1,161.4 L267.1,162.5 L270.7,163.2 L275.1,163.7 L280.1,163.9 L285.2,163.8 L289.1,163.4 L292.5,162.8 L295.3,162.0 L297.7,160.9 L299.7,159.5 L301.4,157.8 L302.9,155.8 L304.1,153.3 L305.0,151.0 L305.7,148.4 L306.4,145.6 L307.1,142.0 L307.6,138.2 L308.2,133.4 L309.2,122.6 L309.9,110.2 L310.7,93.5 L312.7,34.0 L313.1,27.0 L313.3,25.1 L313.4,24.6 L313.6,25.4 L313.8,27.5 L314.2,35.1 L316.0,92.1 L316.6,106.5 L317.3,119.5 L318.0,130.4 L318.9,139.1 L319.9,146.3 L321.1,151.6 L321.7,153.8 L322.5,155.8 L323.4,157.6 L324.2,158.9 L325.3,160.3 L326.4,161.4 L327.7,162.3 L329.1,163.1 L330.7,163.8 L332.5,164.3 L334.6,164.8 L337.1,165.2 L343.1,165.8 L351.5,166.2" fill="none" stroke="#8a0a0a" stroke-width="1.6" stroke-linejoin="round" stroke-linecap="round" clip-path="url(#cb1)"/>
<path d="M10.0,343.9 L21.9,348.6 L24.0,349.3 L31.9,350.8 L34.4,351.2 L40.1,351.6 L51.2,352.0 L56.3,352.5 L58.8,353.0 L61.3,353.6 L63.8,354.3 L66.1,355.3 L69.0,356.7 L71.8,358.4 L74.3,360.4 L76.5,362.7 L78.2,364.9 L79.7,367.4 L82.2,372.5 L83.3,375.2 L84.6,379.5 L85.7,384.6 L86.8,391.2 L87.7,398.4 L88.6,406.4 L89.3,414.9 L89.8,423.5 L90.4,434.4 L90.9,448.5 L91.3,462.1 L92.0,494.3 L92.6,535.2 L93.0,583.6" fill="none" stroke="#000000" stroke-width="1.8" stroke-linejoin="round" stroke-linecap="round" clip-path="url(#ca2)"/>
<path d="M96.4,89.0 L96.8,137.4 L97.4,178.3 L98.1,210.5 L98.5,224.1 L99.0,238.2 L99.6,249.1 L100.1,257.7 L100.8,266.2 L101.7,274.2 L102.6,281.4 L103.7,288.0 L104.8,293.1 L106.1,297.4 L107.2,300.1 L109.7,305.2 L111.2,307.7 L112.9,309.9 L115.1,312.2 L117.6,314.2 L120.4,315.9 L123.3,317.3 L125.6,318.3 L128.1,319.0 L130.6,319.6 L133.1,320.1 L138.2,320.6 L149.3,321.0 L155.0,321.4 L157.5,321.8 L165.4,323.3 L167.5,324.0 L179.4,328.7" fill="none" stroke="#000000" stroke-width="1.8" stroke-linejoin="round" stroke-linecap="round" clip-path="url(#ca2)"/>
<path d="M94.7,736.3 L94.7,-63.7" fill="none" stroke="#000000" stroke-width="1.35" stroke-linejoin="round" stroke-linecap="round" clip-path="url(#ca2)"/>
<path d="M10.0,343.9 L14.1,345.5 L18.6,347.4 L24.3,350.2 L25.6,350.6 L28.1,351.2 L34.1,352.3 L42.8,353.4 L44.5,353.5 L53.1,353.4 L55.2,353.6 L58.2,353.9 L60.5,354.4 L63.1,355.1 L65.9,356.0 L67.7,356.9 L70.6,358.7 L74.3,361.6 L76.6,363.7 L78.7,366.1 L81.2,370.0 L83.2,373.5 L84.4,376.0 L88.2,384.8 L89.4,386.8 L89.7,387.2 L90.1,387.3 L90.5,387.1 L90.9,386.5 L91.8,384.8 L92.4,381.6 L92.9,377.6 L93.9,360.1 L95.3,318.3 L95.8,307.4 L96.4,296.7 L96.8,292.7 L97.5,288.3 L97.7,287.5 L98.2,286.5 L98.7,285.7 L99.1,285.4 L99.4,285.3 L99.9,285.7 L101.2,287.8 L105.0,296.6 L106.2,299.1 L108.2,302.6 L110.8,306.7 L112.8,308.9 L115.1,311.0 L118.8,313.9 L121.7,315.7 L123.5,316.6 L126.3,317.5 L128.9,318.2 L131.2,318.7 L134.2,319.0 L136.3,319.2 L144.9,319.1 L146.6,319.2 L155.3,320.3 L161.3,321.4 L163.8,322.0 L165.1,322.4 L170.8,325.2 L175.3,327.1 L179.4,328.7" fill="none" stroke="#2238e0" stroke-width="1.65" stroke-linejoin="round" stroke-linecap="round" clip-path="url(#ca2)"/>
<path d="M10.0,343.5 L20.7,349.0 L25.1,351.1 L26.7,351.7 L28.7,352.3 L33.1,353.4 L37.6,354.1 L42.8,354.6 L44.7,354.7 L50.6,354.6 L57.0,354.9 L60.8,355.1 L64.4,355.5 L66.0,355.7 L68.6,356.3 L69.9,356.4 L73.5,356.6 L78.6,356.4 L81.4,356.0 L82.7,355.6 L84.2,354.9 L85.4,354.2 L86.6,353.2 L87.3,352.5 L88.3,351.3 L90.6,348.0 L91.3,346.7 L91.9,345.3 L93.6,340.3 L95.5,333.2 L96.5,330.0 L97.5,327.3 L98.5,325.2 L99.4,323.7 L101.1,321.3 L102.1,320.1 L102.8,319.4 L104.0,318.4 L105.2,317.7 L106.7,317.0 L108.0,316.6 L109.6,316.3 L111.5,316.1 L115.3,316.0 L118.0,316.1 L120.5,316.2 L123.8,317.0 L128.9,317.5 L138.0,318.0 L146.2,317.9 L151.2,318.4 L155.0,319.0 L159.9,320.0 L162.4,320.8 L164.0,321.4 L168.7,323.6 L179.4,329.1" fill="none" stroke="#6a7ef2" stroke-width="1.6" stroke-linejoin="round" stroke-linecap="round" clip-path="url(#ca2)"/>
<path d="M10.0,343.3 L25.0,354.0 L26.0,354.6 L27.0,355.1 L28.9,355.8 L33.3,357.1 L37.9,358.3 L39.3,358.4 L45.0,358.3 L47.8,357.8 L51.4,356.8 L59.2,354.8 L65.1,353.0 L70.2,351.9 L74.0,350.6 L77.5,349.2 L80.6,347.6 L84.2,345.2 L90.9,339.7 L98.0,333.3 L104.5,327.9 L107.2,326.0 L109.7,324.4 L113.6,322.6 L118.5,321.0 L120.5,320.4 L124.3,319.6 L130.3,317.7 L142.4,314.6 L144.9,314.3 L149.5,314.2 L151.0,314.3 L155.7,315.3 L162.0,317.3 L163.3,317.9 L164.4,318.6 L179.4,329.3" fill="none" stroke="#f56ea5" stroke-width="1.6" stroke-linejoin="round" stroke-linecap="round" clip-path="url(#ca2)"/>
<path d="M10.0,341.5 L12.1,343.0 L14.2,344.7 L16.8,346.9 L18.5,348.5 L19.8,350.1 L22.4,353.8 L24.3,356.4 L25.4,357.8 L26.4,358.8 L29.9,361.4 L32.3,363.9 L33.1,364.7 L35.3,366.2 L36.1,366.5 L36.8,366.5 L38.0,366.3 L39.7,365.8 L40.5,365.3 L41.5,364.6 L44.0,362.1 L45.1,360.9 L48.2,357.2 L51.0,353.5 L52.3,352.0 L53.7,350.7 L58.6,347.0 L59.6,346.4 L61.0,345.8 L67.1,343.6 L80.6,339.3 L84.6,338.4 L105.4,334.1 L109.5,333.1 L123.2,328.8 L127.4,327.2 L129.8,326.2 L130.9,325.5 L135.3,322.2 L137.2,320.5 L138.4,319.1 L141.2,315.4 L144.1,311.8 L145.2,310.6 L147.4,308.5 L148.5,307.5 L149.4,307.0 L151.3,306.3 L152.4,306.1 L153.2,306.1 L153.8,306.3 L154.6,306.7 L156.7,308.3 L159.7,311.3 L162.9,313.7 L163.9,314.7 L165.0,316.0 L167.0,318.8 L169.6,322.5 L170.9,324.1 L172.6,325.7 L175.2,327.9 L177.3,329.6 L179.4,331.1" fill="none" stroke="#ee1010" stroke-width="1.6" stroke-linejoin="round" stroke-linecap="round" clip-path="url(#ca2)"/>
<path d="M10.0,341.3 L11.6,342.3 L13.4,343.6 L15.6,345.4 L16.9,346.8 L17.9,348.0 L18.6,349.1 L19.4,350.8 L20.2,352.6 L21.0,355.5 L22.2,360.3 L23.8,367.5 L24.9,373.8 L26.4,384.2 L27.9,392.8 L29.5,399.1 L29.9,400.2 L30.1,400.5 L30.2,400.5 L30.6,399.7 L31.0,397.9 L31.9,392.4 L33.1,384.3 L34.6,375.7 L36.7,364.1 L37.5,360.2 L39.0,355.2 L40.0,351.9 L40.9,349.7 L41.5,348.5 L42.2,347.3 L43.1,346.2 L44.0,345.2 L45.0,344.3 L46.2,343.5 L50.3,341.6 L56.3,339.6 L58.5,339.0 L60.4,338.7 L71.8,337.3 L78.2,336.7 L110.5,336.0 L116.5,335.5 L126.4,334.3 L130.4,333.7 L134.6,332.5 L139.5,330.8 L142.3,329.5 L143.8,328.7 L145.0,327.8 L146.2,326.5 L147.3,325.1 L148.1,323.7 L148.9,322.0 L149.6,320.0 L151.5,313.8 L152.6,309.1 L154.3,299.7 L158.4,274.7 L158.8,272.9 L159.2,272.1 L159.3,272.1 L159.5,272.4 L159.9,273.5 L161.5,279.8 L163.0,288.4 L164.5,298.8 L165.6,305.1 L167.2,312.3 L168.4,317.1 L169.2,320.0 L170.0,321.8 L170.8,323.5 L171.5,324.6 L172.5,325.8 L173.8,327.2 L176.0,329.0 L177.8,330.3 L179.4,331.3" fill="none" stroke="#8a0a0a" stroke-width="1.6" stroke-linejoin="round" stroke-linecap="round" clip-path="url(#ca2)"/>
<path d="M207.8,413.3 L210.3,412.6 L212.8,411.8 L217.3,409.7 L223.7,407.4 L235.2,404.4 L238.9,403.9 L240.3,403.5 L241.9,402.8 L244.4,401.4 L247.8,399.3 L250.0,398.1 L251.1,397.3 L252.2,396.2 L253.2,395.0 L255.2,392.1 L257.0,388.7 L258.8,384.5 L260.8,378.9 L262.5,373.3 L263.8,367.9 L265.0,361.2 L266.5,351.5 L267.7,341.8 L268.6,332.3 L269.5,320.3 L270.4,305.3 L271.3,286.4 L272.0,268.4 L272.7,246.2 L273.9,194.7 L274.9,131.6 L275.7,59.3 L276.6,-50.0 L287.9,-50.0 L288.0,-48.0 L288.8,59.4 L289.5,125.7 L290.4,187.1 L291.5,239.1 L292.1,260.4 L292.8,280.8 L293.6,299.6 L294.4,314.9 L295.3,328.8 L296.2,339.9 L297.2,349.4 L298.4,358.2 L299.6,366.2 L300.9,372.5 L302.3,377.9 L304.1,383.5 L306.2,389.0 L308.3,393.3 L309.4,395.2 L310.5,396.8 L311.7,398.3 L312.9,399.5 L314.5,400.8 L319.6,403.8 L322.5,405.3 L324.5,406.2 L325.8,406.5 L329.3,407.0 L336.0,408.8 L340.8,410.0 L347.3,411.9 L351.6,413.5 L354.1,414.2 L356.8,414.7" fill="none" stroke="#000000" stroke-width="1.7" stroke-linejoin="round" stroke-linecap="round" clip-path="url(#cb2)"/>
<path d="M207.8,413.1 L211.5,412.0 L215.3,410.6 L219.0,409.0 L222.9,407.2 L225.7,405.7 L228.0,404.3 L232.0,401.6 L234.5,399.7 L236.2,398.7 L240.2,396.6 L248.1,392.8 L250.2,391.7 L252.1,390.3 L254.4,388.1 L258.6,383.0 L259.8,381.4 L260.7,379.8 L261.6,377.8 L263.5,372.9 L267.3,359.4 L268.8,353.6 L270.3,346.5 L272.2,335.9 L275.3,316.3 L276.0,312.9 L277.1,308.4 L278.3,304.3 L279.4,301.3 L281.0,297.8 L281.7,296.6 L282.3,295.9 L282.3,295.9 L282.7,296.6 L283.6,298.6 L285.5,303.7 L286.8,308.1 L288.1,313.5 L289.4,320.0 L291.7,335.4 L293.5,345.9 L295.0,353.8 L296.4,359.9 L297.8,365.0 L301.2,376.9 L303.1,381.7 L304.0,383.5 L304.8,384.9 L305.7,386.2 L308.1,389.2 L310.5,392.0 L313.0,394.3 L315.3,395.8 L328.5,402.4 L330.1,403.3 L332.5,404.9 L335.7,406.9 L337.8,408.0 L340.2,409.1 L344.2,410.8 L348.6,412.3 L352.6,413.5 L356.8,414.5" fill="none" stroke="#6a7ef2" stroke-width="1.35" stroke-linejoin="round" stroke-linecap="round" clip-path="url(#cb2)"/>
<path d="M207.8,412.9 L212.7,410.8 L219.2,407.9 L223.0,405.9 L225.2,404.5 L228.9,401.7 L232.0,399.1 L234.6,396.8 L237.6,394.9 L239.0,394.2 L240.3,393.7 L244.9,392.6 L246.9,391.9 L253.4,389.2 L256.2,388.0 L258.5,386.8 L260.4,385.6 L265.2,381.7 L273.7,376.3 L276.8,374.2 L277.7,373.8 L278.5,373.5 L280.6,373.2 L282.3,373.1 L283.8,373.5 L285.9,374.2 L287.4,375.0 L291.0,377.9 L299.7,384.7 L303.9,388.4 L306.0,389.9 L308.4,391.3 L311.6,392.9 L317.6,395.7 L319.7,396.5 L324.4,397.9 L327.0,399.1 L330.0,400.8 L332.9,403.1 L336.5,405.7 L339.8,407.8 L342.1,409.0 L344.7,410.1 L349.3,411.8 L356.8,414.4" fill="none" stroke="#f56ea5" stroke-width="1.35" stroke-linejoin="round" stroke-linecap="round" clip-path="url(#cb2)"/>
<path d="M207.8,413.1 L210.3,411.8 L212.8,410.3 L216.9,407.3 L218.8,405.5 L220.2,403.9 L221.3,402.4 L227.5,391.6 L228.4,390.2 L229.5,389.1 L230.7,388.0 L231.6,387.4 L232.4,387.3 L233.7,387.4 L235.3,387.8 L236.6,388.2 L237.6,388.8 L240.6,391.3 L244.7,395.5 L247.5,397.9 L251.2,400.7 L253.4,402.0 L255.0,402.8 L256.4,403.4 L258.5,404.0 L264.1,405.1 L268.2,405.8 L273.7,406.2 L286.2,406.6 L293.5,406.6 L296.9,406.4 L299.8,406.2 L304.8,405.5 L307.8,405.0 L309.2,404.6 L310.8,404.0 L313.1,403.0 L314.8,402.1 L317.3,400.5 L319.6,399.0 L324.0,395.6 L327.0,393.8 L328.0,393.5 L329.7,393.2 L331.2,393.1 L332.5,393.2 L333.2,393.5 L334.0,394.0 L336.2,395.9 L343.2,405.9 L344.2,407.0 L345.5,408.2 L347.6,409.8 L351.6,412.1 L354.1,413.4 L356.8,414.5" fill="none" stroke="#ee1010" stroke-width="1.35" stroke-linejoin="round" stroke-linecap="round" clip-path="url(#cb2)"/>
<path d="M207.8,413.8 L209.1,413.3 L210.2,412.5 L212.6,410.3 L214.0,408.5 L215.4,406.4 L217.4,402.8 L218.2,401.1 L218.9,399.0 L219.8,395.2 L220.7,390.0 L221.9,378.8 L223.5,365.2 L225.1,354.0 L225.5,352.3 L225.8,351.8 L226.1,352.2 L226.5,353.8 L227.8,362.9 L229.3,377.2 L230.6,388.7 L231.7,394.2 L232.8,398.2 L233.5,399.9 L234.4,401.4 L236.7,404.0 L239.8,408.0 L241.1,409.2 L242.7,410.4 L244.2,411.3 L245.9,412.2 L248.4,413.3 L250.9,414.0 L254.4,414.8 L257.7,415.2 L262.9,415.6 L269.9,415.9 L277.8,416.1 L285.6,416.1 L300.9,415.8 L305.2,415.6 L309.1,415.3 L312.3,414.8 L315.7,414.0 L318.3,413.1 L321.0,411.9 L322.9,410.8 L324.6,409.6 L327.9,406.2 L329.9,404.5 L331.1,403.0 L332.0,401.0 L333.0,398.0 L334.0,393.9 L335.3,384.6 L336.8,373.1 L338.1,365.9 L338.5,364.7 L338.8,364.4 L339.1,364.9 L339.5,366.4 L341.1,375.6 L342.7,386.7 L343.9,395.8 L344.8,400.0 L345.7,403.1 L346.4,404.7 L347.2,406.1 L349.1,408.9 L350.6,410.7 L352.1,412.1 L354.4,413.9 L355.5,414.4 L356.8,414.8" fill="none" stroke="#8a0a0a" stroke-width="1.5" stroke-linejoin="round" stroke-linecap="round" clip-path="url(#cb2)"/>
<path d="M457.3,-7.6 L460.9,5.8 L462.8,12.0 L464.6,17.3 L466.3,22.2 L468.2,27.1 L470.1,31.5 L471.8,35.1 L473.7,38.5 L475.5,41.3 L477.2,43.6 L479.1,45.7 L481.0,47.3 L482.7,48.3 L484.5,49.0 L486.2,49.2 L488.0,49.0 L489.9,48.3 L491.6,47.3 L493.5,45.7 L495.4,43.6 L497.1,41.3 L498.9,38.5 L500.8,35.1 L502.5,31.5 L504.4,27.1 L506.3,22.2 L508.0,17.3 L509.8,12.0 L511.7,5.8 L515.3,-7.6" fill="none" stroke="#8a0a0a" stroke-width="1.8" stroke-linejoin="round" stroke-linecap="round" clip-path="url(#cc1)"/>
<path d="M465.2,-2.0 L466.6,2.7 L467.5,5.4 L468.4,7.5 L469.3,9.3 L470.6,11.4 L472.0,13.5 L473.1,14.9 L474.2,15.9 L475.5,16.8 L477.2,17.9 L478.7,18.6 L480.9,19.4 L482.4,19.8 L483.4,19.9 L486.3,20.0 L489.0,19.9 L490.3,19.8 L491.8,19.4 L494.1,18.6 L495.6,17.9 L497.3,16.8 L498.6,15.9 L499.7,14.9 L500.8,13.5 L502.2,11.4 L503.5,9.3 L504.4,7.5 L505.3,5.4 L506.2,2.7 L507.6,-2.0" fill="none" stroke="#6a7ef2" stroke-width="1.5" stroke-linejoin="round" stroke-linecap="round" clip-path="url(#cc1)"/>
<path d="M465.6,-1.0 L466.5,1.1 L467.4,2.7 L470.1,6.7 L471.3,8.2 L473.1,9.6 L475.7,11.2 L477.5,12.0 L478.7,12.5 L481.9,13.1 L486.3,13.4 L490.8,13.2 L492.3,12.9 L494.1,12.5 L495.3,12.0 L497.1,11.2 L499.7,9.6 L501.5,8.2 L502.7,6.7 L505.4,2.7 L506.3,1.1 L507.2,-1.0" fill="none" stroke="#2238e0" stroke-width="2.1" stroke-linejoin="round" stroke-linecap="round" clip-path="url(#cc1)"/>
<path d="M468.8,-1.0 L469.9,1.5 L471.0,3.0 L472.7,4.6 L474.3,5.9 L475.4,6.7 L477.3,7.6 L478.7,8.1 L481.0,8.4 L484.4,8.6 L489.1,8.6 L492.3,8.4 L494.5,8.0 L496.3,7.2 L497.4,6.7 L498.4,5.9 L500.5,4.3 L501.5,3.3 L502.8,1.6 L504.0,-1.0" fill="none" stroke="#000000" stroke-width="1.8" stroke-linejoin="round" stroke-linecap="round" clip-path="url(#cc1)"/>
<path d="M443.9,248.0 L445.0,251.4 L446.0,254.1 L448.8,260.0 L452.2,268.2 L455.2,274.5 L457.3,278.6 L459.2,281.8 L461.6,285.3 L463.9,288.4 L467.1,292.1 L469.3,294.2 L471.4,295.8 L474.2,297.3 L476.5,298.3 L479.9,299.2 L482.0,299.4 L486.3,299.6 L490.6,299.4 L492.9,299.2 L496.3,298.3 L498.6,297.3 L501.4,295.8 L503.5,294.2 L505.7,292.1 L508.7,288.7 L511.0,285.6 L513.6,281.8 L515.5,278.6 L517.6,274.5 L520.6,268.2 L524.0,260.0 L526.8,254.1 L527.8,251.4 L528.9,248.0" fill="none" stroke="#8a0a0a" stroke-width="1.8" stroke-linejoin="round" stroke-linecap="round" clip-path="url(#cc2)"/>
<path d="M450.8,250.0 L451.5,253.0 L452.0,254.6 L453.1,257.2 L454.0,258.8 L455.1,260.2 L457.2,262.3 L458.8,263.7 L460.4,264.8 L462.0,265.6 L463.8,266.4 L465.6,266.9 L467.6,267.4 L474.0,268.2 L480.4,268.5 L486.3,268.4 L493.3,268.5 L499.0,268.2 L503.3,267.7 L506.1,267.2 L508.3,266.6 L510.6,265.7 L512.5,264.6 L514.5,263.2 L517.4,260.6 L518.6,259.1 L519.5,257.6 L520.6,255.1 L521.3,253.0 L522.0,250.0" fill="none" stroke="#6a7ef2" stroke-width="1.5" stroke-linejoin="round" stroke-linecap="round" clip-path="url(#cc2)"/>
<path d="M450.1,250.0 L450.8,252.7 L451.4,253.9 L453.9,257.9 L454.6,258.8 L455.7,259.7 L457.6,260.9 L459.0,261.6 L460.5,262.1 L463.7,262.9 L466.3,263.1 L471.4,262.8 L480.7,261.4 L486.3,260.9 L491.8,261.3 L500.5,262.7 L504.1,263.0 L507.4,263.1 L511.2,262.4 L513.4,261.7 L515.6,260.7 L517.1,259.7 L518.5,258.4 L519.2,257.4 L521.6,253.5 L522.2,252.1 L522.7,250.0" fill="none" stroke="#2238e0" stroke-width="2.1" stroke-linejoin="round" stroke-linecap="round" clip-path="url(#cc2)"/>
<path d="M450.4,250.0 L451.1,252.8 L451.7,254.0 L452.6,255.5 L453.6,256.6 L456.7,258.7 L459.6,260.3 L462.5,261.2 L464.5,261.4 L467.4,261.2 L471.0,260.7 L472.6,260.2 L480.4,257.1 L483.6,256.4 L486.3,256.1 L489.0,256.4 L492.3,257.0 L493.9,257.6 L500.4,260.2 L502.0,260.7 L504.7,261.1 L506.9,261.4 L508.5,261.4 L509.9,261.2 L512.5,260.6 L513.7,260.1 L516.3,258.6 L519.3,256.4 L520.4,255.2 L521.3,253.7 L521.9,252.2 L522.4,250.0" fill="none" stroke="#000000" stroke-width="1.8" stroke-linejoin="round" stroke-linecap="round" clip-path="url(#cc2)"/>
<rect x="127.60" y="89.30" width="44.90" height="72.90" fill="#ffffff" stroke="#7c7c7c" stroke-width="1"/>
<line x1="129.60" y1="95.60" x2="139.40" y2="95.60" stroke="#000000" stroke-width="2.0" />
<text x="144.00" y="100.11" font-family='"Liberation Sans", sans-serif' font-size="10.3" text-anchor="start" fill="#1a1a1a" stroke="#1a1a1a" stroke-width="0.22" >200 K</text>
<line x1="129.60" y1="107.70" x2="139.40" y2="107.70" stroke="#2238e0" stroke-width="2.0" />
<text x="144.00" y="112.21" font-family='"Liberation Sans", sans-serif' font-size="10.3" text-anchor="start" fill="#1a1a1a" stroke="#1a1a1a" stroke-width="0.22" >202 K</text>
<line x1="129.60" y1="119.50" x2="139.40" y2="119.50" stroke="#6a7ef2" stroke-width="2.0" />
<text x="144.00" y="124.01" font-family='"Liberation Sans", sans-serif' font-size="10.3" text-anchor="start" fill="#1a1a1a" stroke="#1a1a1a" stroke-width="0.22" >206 K</text>
<line x1="129.60" y1="131.70" x2="139.40" y2="131.70" stroke="#f56ea5" stroke-width="2.0" />
<text x="144.00" y="136.21" font-family='"Liberation Sans", sans-serif' font-size="10.3" text-anchor="start" fill="#1a1a1a" stroke="#1a1a1a" stroke-width="0.22" >210 K</text>
<line x1="129.60" y1="143.70" x2="139.40" y2="143.70" stroke="#ee1010" stroke-width="2.0" />
<text x="144.00" y="148.21" font-family='"Liberation Sans", sans-serif' font-size="10.3" text-anchor="start" fill="#1a1a1a" stroke="#1a1a1a" stroke-width="0.22" >220 K</text>
<line x1="129.60" y1="155.40" x2="139.40" y2="155.40" stroke="#8a0a0a" stroke-width="2.0" />
<text x="144.00" y="159.91" font-family='"Liberation Sans", sans-serif' font-size="10.3" text-anchor="start" fill="#1a1a1a" stroke="#1a1a1a" stroke-width="0.22" >250 K</text>
<rect x="318.70" y="-0.50" width="45.20" height="60.90" fill="#ffffff" stroke="#7c7c7c" stroke-width="1"/>
<line x1="321.80" y1="6.50" x2="331.20" y2="6.50" stroke="#000000" stroke-width="2.0" />
<text x="335.90" y="10.61" font-family='"Liberation Sans", sans-serif' font-size="10.3" text-anchor="start" fill="#1a1a1a" stroke="#1a1a1a" stroke-width="0.22" >200 K</text>
<line x1="321.80" y1="18.40" x2="331.20" y2="18.40" stroke="#6a7ef2" stroke-width="2.0" />
<text x="335.90" y="22.51" font-family='"Liberation Sans", sans-serif' font-size="10.3" text-anchor="start" fill="#1a1a1a" stroke="#1a1a1a" stroke-width="0.22" >206 K</text>
<line x1="321.80" y1="30.30" x2="331.20" y2="30.30" stroke="#f56ea5" stroke-width="2.0" />
<text x="335.90" y="34.41" font-family='"Liberation Sans", sans-serif' font-size="10.3" text-anchor="start" fill="#1a1a1a" stroke="#1a1a1a" stroke-width="0.22" >210 K</text>
<line x1="321.80" y1="42.20" x2="331.20" y2="42.20" stroke="#ee1010" stroke-width="2.0" />
<text x="335.90" y="46.31" font-family='"Liberation Sans", sans-serif' font-size="10.3" text-anchor="start" fill="#1a1a1a" stroke="#1a1a1a" stroke-width="0.22" >220 K</text>
<line x1="321.80" y1="54.10" x2="331.20" y2="54.10" stroke="#8a0a0a" stroke-width="2.0" />
<text x="335.90" y="58.21" font-family='"Liberation Sans", sans-serif' font-size="10.3" text-anchor="start" fill="#1a1a1a" stroke="#1a1a1a" stroke-width="0.22" >250 K</text>
<rect x="524.10" y="15.80" width="39.00" height="41.00" fill="#ffffff" stroke="#7c7c7c" stroke-width="1"/>
<line x1="526.70" y1="22.10" x2="535.80" y2="22.10" stroke="#000000" stroke-width="2" />
<text x="539.80" y="25.33" font-family='"Liberation Sans", sans-serif' font-size="8.7" text-anchor="start" fill="#1a1a1a" stroke="#1a1a1a" stroke-width="0.22" >200 K</text>
<line x1="526.70" y1="31.80" x2="535.80" y2="31.80" stroke="#2238e0" stroke-width="2.6" />
<text x="539.80" y="35.03" font-family='"Liberation Sans", sans-serif' font-size="8.7" text-anchor="start" fill="#1a1a1a" stroke="#1a1a1a" stroke-width="0.22" >202 K</text>
<line x1="526.70" y1="41.40" x2="535.80" y2="41.40" stroke="#6a7ef2" stroke-width="1.6" />
<text x="539.80" y="44.63" font-family='"Liberation Sans", sans-serif' font-size="8.7" text-anchor="start" fill="#1a1a1a" stroke="#1a1a1a" stroke-width="0.22" >206 K</text>
<line x1="526.70" y1="51.10" x2="535.80" y2="51.10" stroke="#8a0a0a" stroke-width="2.2" />
<text x="539.80" y="54.33" font-family='"Liberation Sans", sans-serif' font-size="8.7" text-anchor="start" fill="#1a1a1a" stroke="#1a1a1a" stroke-width="0.22" >250 K</text>
<rect x="131.40" y="340.00" width="46.10" height="73.60" fill="#ffffff" stroke="#7c7c7c" stroke-width="1"/>
<line x1="134.30" y1="347.90" x2="143.40" y2="347.90" stroke="#000000" stroke-width="2.0" />
<text x="148.40" y="352.41" font-family='"Liberation Sans", sans-serif' font-size="10.3" text-anchor="start" fill="#1a1a1a" stroke="#1a1a1a" stroke-width="0.22" >200 K</text>
<line x1="134.30" y1="359.70" x2="143.40" y2="359.70" stroke="#2238e0" stroke-width="2.0" />
<text x="148.40" y="364.21" font-family='"Liberation Sans", sans-serif' font-size="10.3" text-anchor="start" fill="#1a1a1a" stroke="#1a1a1a" stroke-width="0.22" >202 K</text>
<line x1="134.30" y1="371.60" x2="143.40" y2="371.60" stroke="#6a7ef2" stroke-width="2.0" />
<text x="148.40" y="376.11" font-family='"Liberation Sans", sans-serif' font-size="10.3" text-anchor="start" fill="#1a1a1a" stroke="#1a1a1a" stroke-width="0.22" >206 K</text>
<line x1="134.30" y1="383.40" x2="143.40" y2="383.40" stroke="#f56ea5" stroke-width="2.0" />
<text x="148.40" y="387.91" font-family='"Liberation Sans", sans-serif' font-size="10.3" text-anchor="start" fill="#1a1a1a" stroke="#1a1a1a" stroke-width="0.22" >210 K</text>
<line x1="134.30" y1="394.80" x2="143.40" y2="394.80" stroke="#ee1010" stroke-width="2.0" />
<text x="148.40" y="399.31" font-family='"Liberation Sans", sans-serif' font-size="10.3" text-anchor="start" fill="#1a1a1a" stroke="#1a1a1a" stroke-width="0.22" >220 K</text>
<line x1="134.30" y1="405.90" x2="143.40" y2="405.90" stroke="#8a0a0a" stroke-width="2.0" />
<text x="148.40" y="410.41" font-family='"Liberation Sans", sans-serif' font-size="10.3" text-anchor="start" fill="#1a1a1a" stroke="#1a1a1a" stroke-width="0.22" >250 K</text>
<rect x="324.20" y="250.70" width="44.90" height="61.40" fill="#ffffff" stroke="#7c7c7c" stroke-width="1"/>
<line x1="326.90" y1="257.80" x2="336.30" y2="257.80" stroke="#000000" stroke-width="2.0" />
<text x="340.60" y="262.31" font-family='"Liberation Sans", sans-serif' font-size="10.3" text-anchor="start" fill="#1a1a1a" stroke="#1a1a1a" stroke-width="0.22" >200 K</text>
<line x1="326.90" y1="269.50" x2="336.30" y2="269.50" stroke="#6a7ef2" stroke-width="2.0" />
<text x="340.60" y="274.01" font-family='"Liberation Sans", sans-serif' font-size="10.3" text-anchor="start" fill="#1a1a1a" stroke="#1a1a1a" stroke-width="0.22" >206 K</text>
<line x1="326.90" y1="281.30" x2="336.30" y2="281.30" stroke="#f56ea5" stroke-width="2.0" />
<text x="340.60" y="285.81" font-family='"Liberation Sans", sans-serif' font-size="10.3" text-anchor="start" fill="#1a1a1a" stroke="#1a1a1a" stroke-width="0.22" >210 K</text>
<line x1="326.90" y1="293.10" x2="336.30" y2="293.10" stroke="#ee1010" stroke-width="2.0" />
<text x="340.60" y="297.61" font-family='"Liberation Sans", sans-serif' font-size="10.3" text-anchor="start" fill="#1a1a1a" stroke="#1a1a1a" stroke-width="0.22" >220 K</text>
<line x1="326.90" y1="304.60" x2="336.30" y2="304.60" stroke="#8a0a0a" stroke-width="2.0" />
<text x="340.60" y="309.11" font-family='"Liberation Sans", sans-serif' font-size="10.3" text-anchor="start" fill="#1a1a1a" stroke="#1a1a1a" stroke-width="0.22" >250 K</text>
<rect x="523.50" y="267.00" width="39.50" height="39.50" fill="#ffffff" stroke="#7c7c7c" stroke-width="1"/>
<line x1="526.60" y1="272.80" x2="536.00" y2="272.80" stroke="#000000" stroke-width="2" />
<text x="539.90" y="276.03" font-family='"Liberation Sans", sans-serif' font-size="8.7" text-anchor="start" fill="#1a1a1a" stroke="#1a1a1a" stroke-width="0.22" >200 K</text>
<line x1="526.60" y1="282.70" x2="536.00" y2="282.70" stroke="#2238e0" stroke-width="2.6" />
<text x="539.90" y="285.93" font-family='"Liberation Sans", sans-serif' font-size="8.7" text-anchor="start" fill="#1a1a1a" stroke="#1a1a1a" stroke-width="0.22" >202 K</text>
<line x1="526.60" y1="292.20" x2="536.00" y2="292.20" stroke="#6a7ef2" stroke-width="1.6" />
<text x="539.90" y="295.43" font-family='"Liberation Sans", sans-serif' font-size="8.7" text-anchor="start" fill="#1a1a1a" stroke="#1a1a1a" stroke-width="0.22" >206 K</text>
<line x1="526.60" y1="301.80" x2="536.00" y2="301.80" stroke="#8a0a0a" stroke-width="2.2" />
<text x="539.90" y="305.03" font-family='"Liberation Sans", sans-serif' font-size="8.7" text-anchor="start" fill="#1a1a1a" stroke="#1a1a1a" stroke-width="0.22" >250 K</text></svg></body></html>
